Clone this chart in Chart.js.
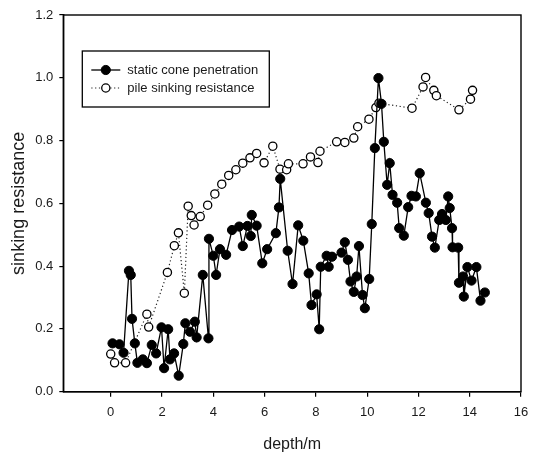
<!DOCTYPE html>
<html>
<head>
<meta charset="utf-8">
<script src="https://cdn.jsdelivr.net/npm/chart.js@4/dist/chart.umd.min.js"></script>
<style>
  html, body { margin: 0; padding: 0; background: #fff; }
  #wrap { width: 550px; height: 464px; position: relative; }
</style>
</head>
<body>
<div id="wrap"><canvas id="c" width="550" height="464"></canvas></div>
<script>
// ---- data ----
const seriesNames = ["static cone penetration", "pile sinking resistance"];
const axisTitleX = "depth/m";
const axisTitleY = "sinking resistance";

const coneDepth = [0.07,0.34,0.50,0.71,0.78,0.83,0.94,1.04,1.25,1.41,1.60,1.77,1.98,2.08,2.24,2.31,2.47,2.65,2.83,2.91,
  3.09,3.28,3.35,3.59,3.81,3.83,4.00,4.11,4.26,4.50,4.73,5.01,5.15,5.33,5.46,5.50,5.69,5.91,6.10,6.44,
  6.56,6.61,6.90,7.09,7.31,7.51,7.72,7.83,8.03,8.13,8.19,8.42,8.50,8.63,9.00,9.13,9.25,9.35,9.48,9.59,
  9.68,9.82,9.91,10.08,10.18,10.30,10.44,10.56,10.65,10.78,10.88,10.99,11.17,11.25,11.43,11.60,11.73,11.90,12.05,12.29,
  12.40,12.53,12.64,12.81,12.92,13.07,13.16,13.22,13.31,13.33,13.55,13.58,13.74,13.77,13.91,14.07,14.26,14.42,14.59];
const coneValues = [0.154,0.151,0.124,0.385,0.372,0.232,0.154,0.092,0.103,0.091,0.149,0.122,0.205,0.075,0.199,0.103,0.122,0.051,0.152,0.218,
  0.191,0.223,0.173,0.372,0.170,0.487,0.433,0.372,0.454,0.436,0.515,0.526,0.464,0.528,0.496,0.563,0.529,0.409,0.454,0.505,
  0.587,0.678,0.449,0.343,0.530,0.481,0.377,0.276,0.310,0.199,0.398,0.433,0.398,0.430,0.443,0.476,0.420,0.351,0.318,0.367,
  0.464,0.308,0.266,0.359,0.534,0.776,0.999,0.917,0.796,0.659,0.728,0.627,0.602,0.521,0.497,0.588,0.624,0.622,0.696,0.602,
  0.569,0.494,0.459,0.547,0.566,0.547,0.622,0.585,0.521,0.460,0.459,0.347,0.367,0.303,0.397,0.354,0.397,0.290,0.316];

const pileDepth = [0.00,0.15,0.58,1.41,1.48,2.21,2.48,2.64,2.87,3.02,3.14,3.25,3.49,3.78,4.06,4.33,4.60,4.88,5.15,5.43,
  5.69,5.98,6.32,6.60,6.86,6.93,7.50,7.79,8.08,8.16,8.81,9.13,9.48,9.63,10.07,10.34,10.46,11.75,12.18,12.28,
  12.60,12.70,13.58,14.03,14.11];
const pileValues = [0.120,0.092,0.092,0.247,0.206,0.380,0.465,0.506,0.314,0.591,0.561,0.531,0.558,0.594,0.630,0.661,0.689,0.707,0.728,0.745,
  0.759,0.729,0.782,0.709,0.707,0.726,0.726,0.748,0.730,0.766,0.796,0.794,0.808,0.844,0.868,0.905,0.919,0.903,0.971,1.001,
  0.960,0.943,0.898,0.932,0.960];

const xTickValues = [0, 2, 4, 6, 8, 10, 12, 14, 16];
const yTickValues = [0.0, 0.2, 0.4, 0.6, 0.8, 1.0, 1.2];

// ---- chart ----
const FONT = "'Liberation Sans', Arial, sans-serif";
const TXT = "#1a1a1a";

const conePts = coneDepth.map((x, i) => ({ x: x, y: coneValues[i] }));
const pilePts = pileDepth.map((x, i) => ({ x: x, y: pileValues[i] }));

const frameAndLegend = {
  id: "frameAndLegend",
  afterDraw(chart) {
    const ctx = chart.ctx;
    const a = chart.chartArea;
    ctx.save();
    // full frame
    ctx.strokeStyle = "#000";
    ctx.lineWidth = 1.4;
    ctx.strokeRect(a.left, a.top, a.right - a.left, a.bottom - a.top);

    // legend box
    const bx = a.left + 19, by = a.top + 36, bw = 187, bh = 56;
    ctx.lineWidth = 1.3;
    ctx.strokeRect(bx, by, bw, bh);
    const rows = [by + 19, by + 37];
    chart.data.datasets.forEach((ds, i) => {
      const y = rows[i];
      const x0 = bx + 9, x1 = bx + 38, xm = (x0 + x1) / 2;
      ctx.beginPath();
      ctx.setLineDash(ds.borderDash || []);
      ctx.strokeStyle = ds.borderColor;
      ctx.lineWidth = ds.borderWidth;
      ctx.moveTo(x0, y); ctx.lineTo(x1, y);
      ctx.stroke();
      ctx.setLineDash([]);
      ctx.beginPath();
      ctx.arc(xm, y, ds.pointRadius, 0, Math.PI * 2);
      ctx.fillStyle = ds.pointBackgroundColor;
      ctx.fill();
      ctx.lineWidth = ds.pointBorderWidth;
      ctx.strokeStyle = ds.pointBorderColor;
      ctx.stroke();
      ctx.fillStyle = TXT;
      ctx.font = "13px " + FONT;
      ctx.textAlign = "left";
      ctx.textBaseline = "middle";
      ctx.fillText(ds.label, bx + 45, y);
    });
    ctx.restore();
  }
};

new Chart(document.getElementById("c"), {
  type: "scatter",
  data: {
    datasets: [
      {
        label: seriesNames[0],
        data: conePts,
        showLine: true,
        borderColor: "#000",
        borderWidth: 1.3,
        pointRadius: 4.6,
        pointBackgroundColor: "#000",
        pointBorderColor: "#000",
        pointBorderWidth: 1,
        tension: 0
      },
      {
        label: seriesNames[1],
        data: pilePts,
        showLine: true,
        borderColor: "#222",
        borderWidth: 1.2,
        borderDash: [1.2, 2.6],
        pointRadius: 4.1,
        pointBackgroundColor: "#fff",
        pointBorderColor: "#000",
        pointBorderWidth: 1.3,
        tension: 0
      }
    ]
  },
  options: {
    responsive: false,
    animation: false,
    devicePixelRatio: 1,
    layout: { padding: { left: 0, right: 29, top: 15, bottom: 0 } },
    plugins: { legend: { display: false }, tooltip: { enabled: false } },
    scales: {
      x: {
        type: "linear",
        min: -1.85,
        max: 16,
        afterBuildTicks(scale) { scale.ticks = xTickValues.map(v => ({ value: v })); },
        afterFit(scale) { scale.height = 72.3; },
        border: { display: true, color: "#000", width: 1.4 },
        grid: { drawOnChartArea: false, drawTicks: true, tickLength: 5, color: "#000", lineWidth: 1.2 },
        ticks: { color: TXT, font: { family: FONT, size: 13 }, padding: 8, maxRotation: 0, autoSkip: false,
                 callback: v => String(v) },
        title: { display: true, text: axisTitleX, color: TXT, font: { family: FONT, size: 16 }, padding: { top: 0, bottom: 9.4 } }
      },
      y: {
        type: "linear",
        min: 0,
        max: 1.2,
        afterBuildTicks(scale) { scale.ticks = yTickValues.map(v => ({ value: v })); },
        afterFit(scale) { scale.width = 63.3; },
        border: { display: true, color: "#000", width: 1.4 },
        grid: { drawOnChartArea: false, drawTicks: true, tickLength: 4, color: "#000", lineWidth: 1.2 },
        ticks: { color: TXT, font: { family: FONT, size: 13 }, padding: 6, autoSkip: false,
                 callback: v => Number(v).toFixed(1) },
        title: { display: true, text: axisTitleY, color: TXT, font: { family: FONT, size: 18 }, padding: { top: 8.5, bottom: 0 } }
      }
    }
  },
  plugins: [frameAndLegend]
});
</script>
</body>
</html>
